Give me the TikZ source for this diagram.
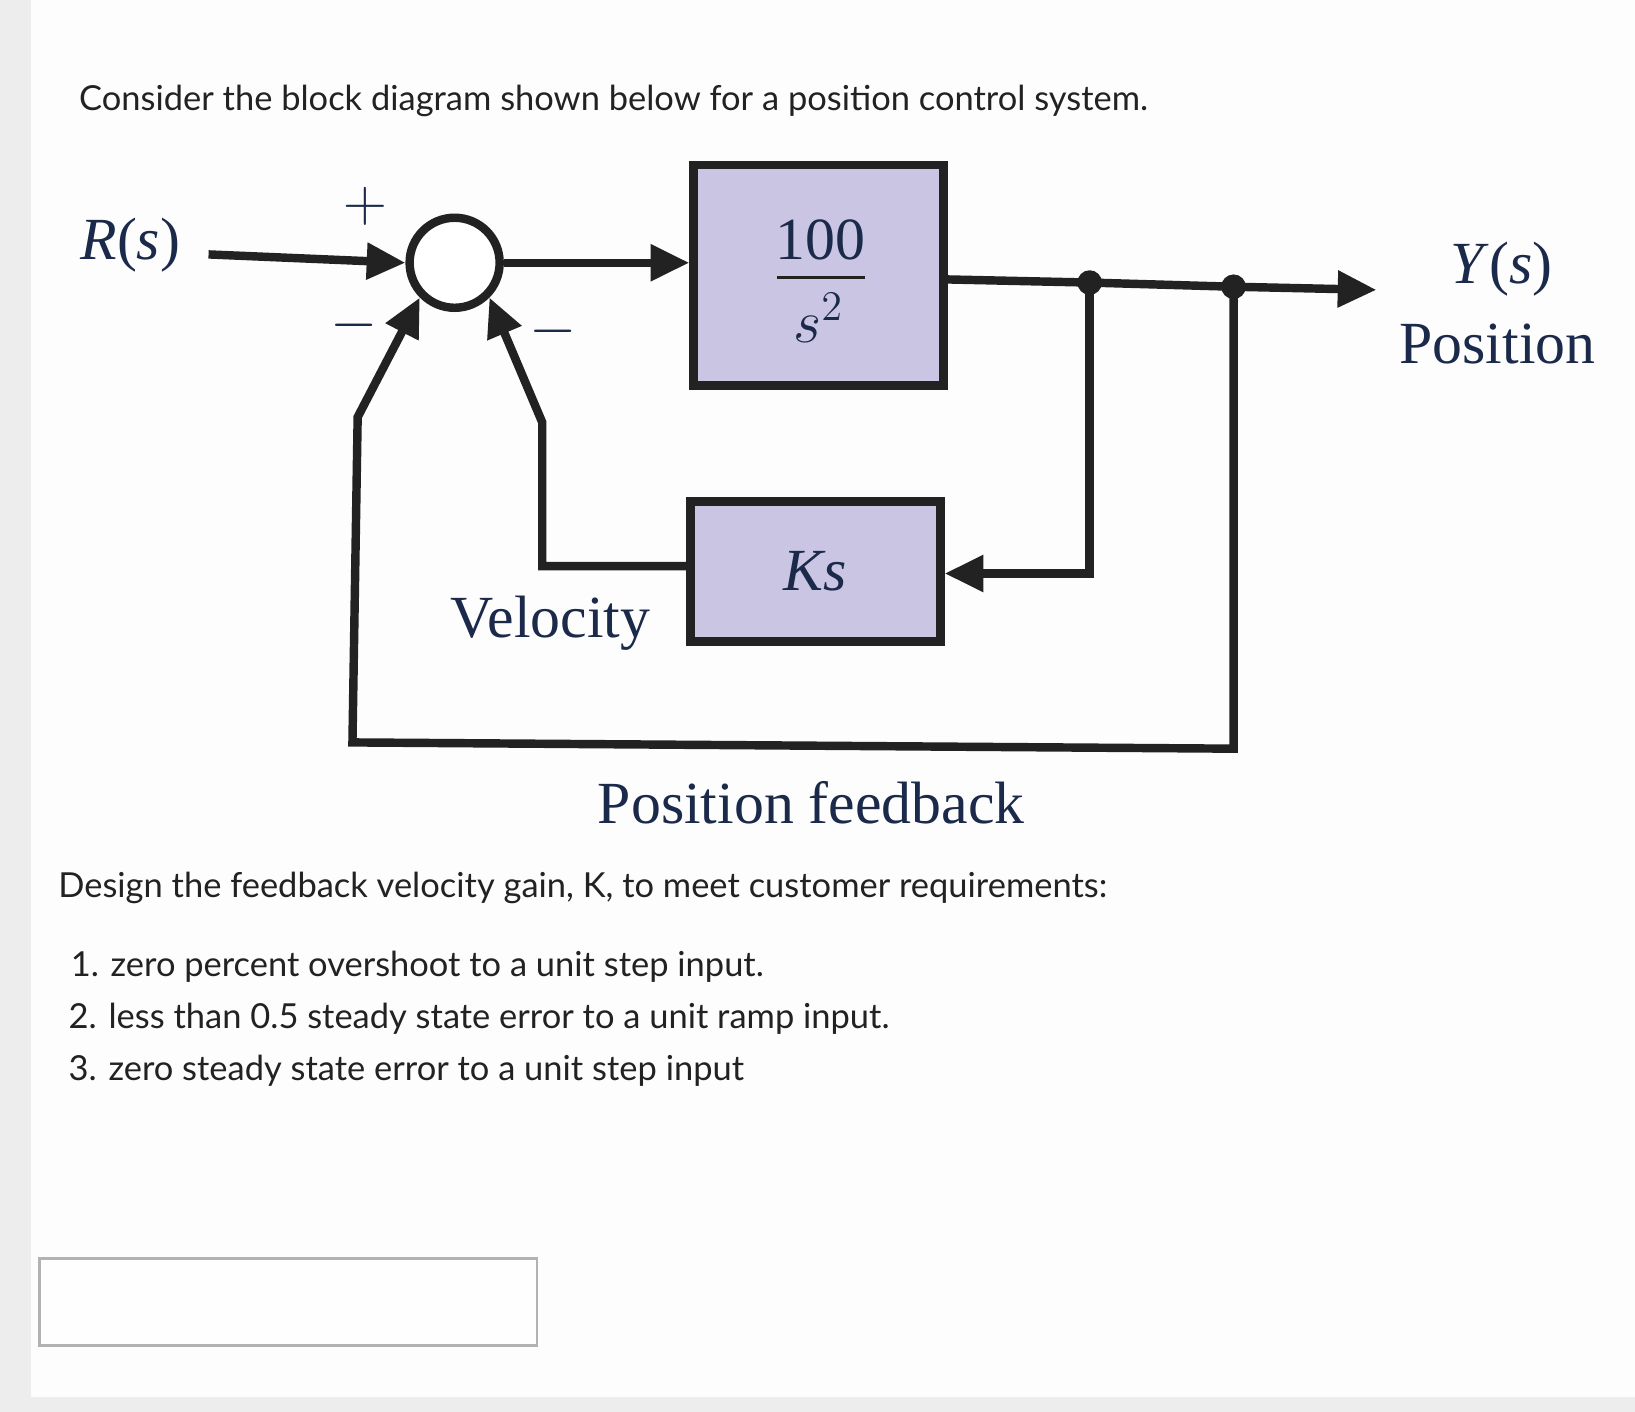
\documentclass[tikz,border=0pt]{standalone}
\usepackage{fontspec}
\setmainfont{Lato}
\newfontfamily\dfont{Liberation Serif}
\usetikzlibrary{arrows.meta}
\definecolor{blk}{HTML}{C9C5E2}
\definecolor{bg}{HTML}{EDEDED}
\definecolor{ink}{HTML}{222222}
\definecolor{lbl}{HTML}{1B2A4A}
\begin{document}
\begin{tikzpicture}[x=0.010427cm,y=-0.010427cm,
  wire/.style={line width=2.4pt,draw=ink},
  arr/.style={wire,-{Triangle[length=11pt,width=10pt]}},
  blkbox/.style={draw=ink,line width=2.4pt,fill=blk,minimum width=2.5cm,inner sep=0pt},
  dlab/.style={font=\dfont\fontsize{17}{20}\selectfont,text=lbl},
  txt/.style={font=\fontsize{9.8}{12}\selectfont,text=ink,anchor=west},
  dot/.style={circle,fill=ink,inner sep=0pt,minimum size=7pt}]
\useasboundingbox (0,0) rectangle (1568,1354);
\fill[bg] (0,0) rectangle (1568,1354);
\fill[white!92!bg] (30,0) rectangle (1568,1340);
\node[txt] (title) at (64,97) {Consider the block diagram shown below for a position control system.};
% blocks
\node[blkbox,minimum height=2.2cm] (G) at (785,264) {};
\node[dlab] at (787,230) {100};
\draw[ink,line width=1pt] (745,266) -- (830,266);
\node[dlab] at (785,305) {$s^2$};
\node[blkbox,minimum height=1.4cm] (K) at (782,548) {};
\node[dlab] at (782,548) {\textit{Ks}};
\node[draw=ink,line width=2.4pt,circle,fill=white,minimum size=0.9cm,inner sep=0pt] (S) at (436,252) {};
% labels
\node[dlab] (R) at (125,235) {\textit{R}(\textit{s})};
\node[dlab] at (350,198) {$+$};
\node[dlab] at (340,312) {$-$};
\node[dlab] at (530,318) {$-$};
\node[dlab] (Y) at (1440,258) {\textit{Y}(\textit{s})};
\node[dlab] at (1436,330) {Position};
\node[dlab] at (528,598) {Velocity};
\node[dlab] at (778,770) {Position feedback};
% wires
\coordinate (rin) at (200,244);
\coordinate (yout) at (1320,278);
\node[dot] (d1) at (1045,271) {};
\node[dot] (d2) at (1183,275) {};
\draw[arr] (rin) -- (S.west);
\draw[arr] (S.east) -- (G.west |- S.east);
\draw[wire] (G.east |- 0,268) -- (d1.center);
\draw[wire] (d1.center) -- (d2.center);
\draw[arr] (d2.center) -- (yout);
\draw[arr] (d1.center) -- (1045,550) -- (K.east |- 0,550);
\draw[arr] (K.west |- 0,543) -- (520,543) -- (520,405) -- (S.south east);
\draw[arr] (d2.center) -- (1183,718) -- (338,712) -- (343,400) -- (S.south west);
% text
\node[txt] at (44,852) {Design the feedback velocity gain, K, to meet customer requirements:};
\node[txt] at (56,927) {1. zero percent overshoot to a unit step input.};
\node[txt] at (54,977) {2. less than 0.5 steady state error to a unit ramp input.};
\node[txt] at (54,1027) {3. zero steady state error to a unit step input};
\draw[gray!60,line width=0.8pt,fill=white!96!bg] (38,1207) rectangle (515,1290);
\end{tikzpicture}
\end{document}
